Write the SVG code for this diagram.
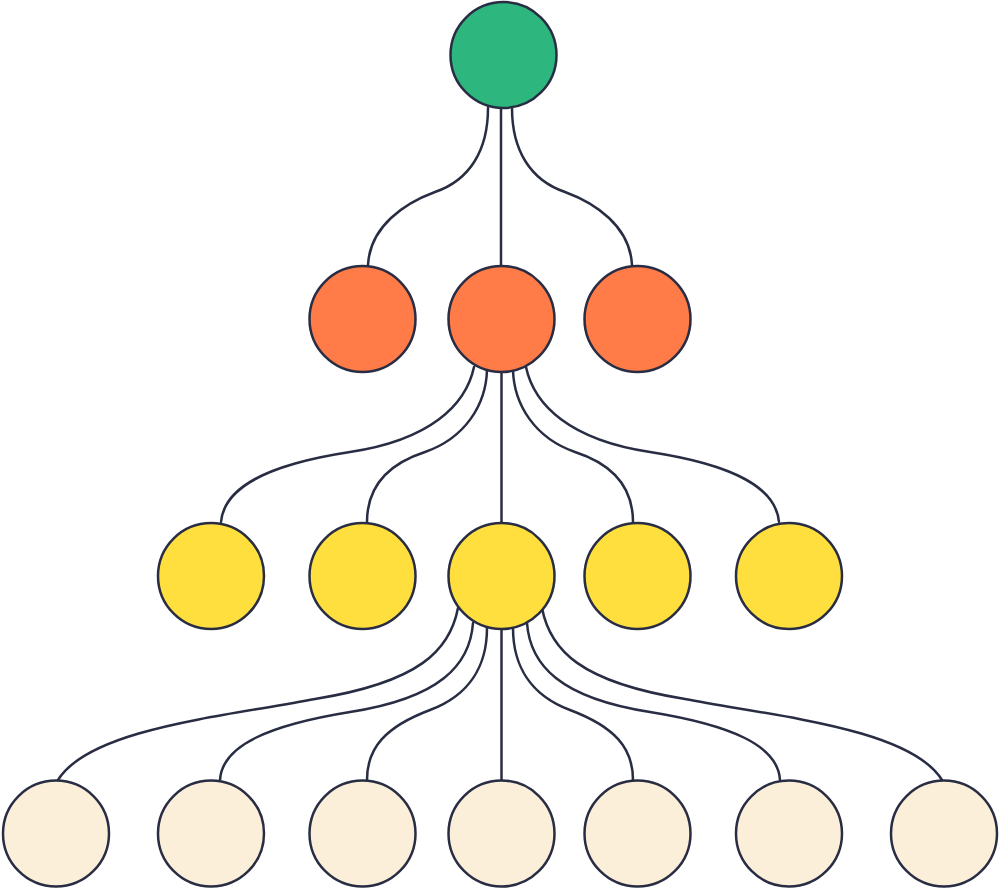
<svg xmlns="http://www.w3.org/2000/svg" width="1000" height="889" viewBox="0 0 1000 889">
  <style>
    .edge { fill: none; stroke: #282D43; stroke-width: 2.5; stroke-linecap: round; }
    .node { stroke: #282D43; stroke-width: 2.5; }
    .root { fill: #2DB67D; }
    .l1 { fill: #FF7B47; }
    .l2 { fill: #FFDF3E; }
    .l3 { fill: #FBEFDA; }
  </style>
  <rect width="1000" height="889" fill="#FFFFFF"/>
  <g id="connectors">
    <path class="edge" d="M488,108 C488,150 470,180 435,192 C405,203 370,226 368,265"/>
    <path class="edge" d="M501,108 V265"/>
    <path class="edge" d="M512,108 C512,150 530,180 565,192 C595,203 630,226 632,265"/>

    <path class="edge" d="M474,367 C466,405 430,440 350,452 C265,465 224,488 221,522"/>
    <path class="edge" d="M487,370 C486,405 465,438 425,452 C385,465 367,490 367,522"/>
    <path class="edge" d="M501.5,372 V522"/>
    <path class="edge" d="M513,370 C514,405 535,438 575,452 C615,465 633,490 633,522"/>
    <path class="edge" d="M526,367 C534,405 570,440 650,452 C735,465 776,488 779,522"/>

    <path class="edge" d="M458,608 C450,650 420,682 315,699 C228,716 90,728 58,780"/>
    <path class="edge" d="M473,623 C470,665 440,698 350,712 C270,725 222,745 220,780"/>
    <path class="edge" d="M487,628 C487,665 470,695 430,710 C385,727 367,748 367,780"/>
    <path class="edge" d="M501.5,630 V780"/>
    <path class="edge" d="M513,628 C513,665 530,695 570,710 C615,727 633,748 633,780"/>
    <path class="edge" d="M527,623 C530,665 560,698 650,712 C730,725 778,745 780,780"/>
    <path class="edge" d="M542,608 C550,650 580,682 685,699 C772,716 910,728 942,780"/>
  </g>

  <g id="node-root"><circle class="node root" cx="503.5" cy="55" r="53"/></g>

  <g id="node-1a"><circle class="node l1" cx="362.5" cy="319" r="53"/></g>
  <g id="node-1b"><circle class="node l1" cx="501.5" cy="319" r="53"/></g>
  <g id="node-1c"><circle class="node l1" cx="637.5" cy="319" r="53"/></g>

  <g id="node-2a"><circle class="node l2" cx="211" cy="576" r="53"/></g>
  <g id="node-2b"><circle class="node l2" cx="362.5" cy="576" r="53"/></g>
  <g id="node-2c"><circle class="node l2" cx="501.5" cy="576" r="53"/></g>
  <g id="node-2d"><circle class="node l2" cx="637.5" cy="576" r="53"/></g>
  <g id="node-2e"><circle class="node l2" cx="789" cy="576" r="53"/></g>

  <g id="node-3a"><circle class="node l3" cx="56" cy="833.5" r="53"/></g>
  <g id="node-3b"><circle class="node l3" cx="211" cy="833.5" r="53"/></g>
  <g id="node-3c"><circle class="node l3" cx="362.5" cy="833.5" r="53"/></g>
  <g id="node-3d"><circle class="node l3" cx="501.5" cy="833.5" r="53"/></g>
  <g id="node-3e"><circle class="node l3" cx="637.5" cy="833.5" r="53"/></g>
  <g id="node-3f"><circle class="node l3" cx="789" cy="833.5" r="53"/></g>
  <g id="node-3g"><circle class="node l3" cx="944" cy="833.5" r="53"/></g>
</svg>
